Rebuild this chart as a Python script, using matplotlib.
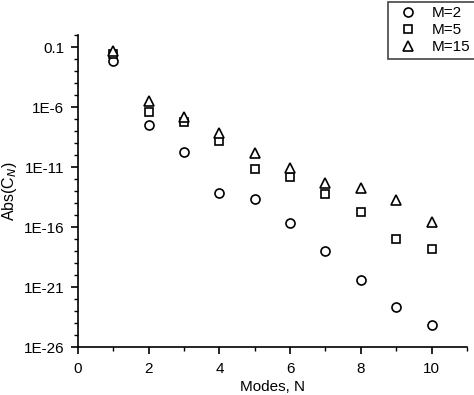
import numpy as np
import matplotlib
matplotlib.use('Agg')
import matplotlib.pyplot as plt
from matplotlib.ticker import FixedLocator, MultipleLocator

plt.rcParams['font.family'] = ['Liberation Sans', 'DejaVu Sans']
plt.rcParams['font.size'] = 11

# モード番号と各Mの係数の対数値 (log10)
modes = [1, 2, 3, 4, 5, 6, 7, 8, 9, 10]
log_m2 = [-2.17, -7.5, -9.75, -13.17, -13.67, -15.67, -18.0, -20.42, -22.67, -24.17]
log_m5 = [-1.58, -6.42, -7.25, -8.83, -11.17, -11.83, -13.25, -14.75, -17.0, -17.83]
log_m15 = [-1.33, -5.5, -6.83, -8.17, -9.83, -11.08, -12.33, -12.75, -13.75, -15.58]

ytick_vals = [1e-1, 1e-6, 1e-11, 1e-16, 1e-21, 1e-26]
ytick_labels = ['0.1', '1E-6', '1E-11', '1E-16', '1E-21', '1E-26']

fig = plt.figure(figsize=(4.74, 3.95), dpi=100)
ax = fig.add_axes([0.1646, 0.1215, 0.8204, 0.7895])

style = dict(linestyle='None', markerfacecolor='white', markeredgecolor='black',
             markeredgewidth=1.2, markersize=6.5)
ax.plot(modes, 10.0 ** np.array(log_m2), marker='o', label='M=2', **style)
ax.plot(modes, 10.0 ** np.array(log_m5), marker='s', label='M=5', **{**style, 'markersize': 5.5})
ax.plot(modes, 10.0 ** np.array(log_m15), marker='^', label='M=15', **style)

ax.set_yscale('log')
ax.set_ylim(1e-26, 1e0)
ax.set_xlim(0, 11)

ax.yaxis.set_major_locator(FixedLocator(ytick_vals))
ax.set_yticklabels(ytick_labels)
ax.yaxis.set_minor_locator(FixedLocator([10.0 ** -k for k in range(0, 27)]))
ax.yaxis.set_minor_formatter(plt.NullFormatter())

ax.xaxis.set_major_locator(MultipleLocator(2))
ax.xaxis.set_minor_locator(MultipleLocator(1))

ax.spines['top'].set_visible(False)
ax.spines['right'].set_visible(False)
for s in ['left', 'bottom']:
    ax.spines[s].set_linewidth(1.2)
ax.tick_params(which='major', direction='out', length=5, width=1.2, labelsize=11)
ax.tick_params(axis='x', which='major', pad=5.5)
ax.tick_params(axis='y', which='major', pad=5)
ax.tick_params(which='minor', direction='out', length=3, width=1.0)

ax.set_xlabel('Modes, N', fontsize=11, labelpad=3)
ax.set_ylabel('Abs(C$_N$)', fontsize=11.5, labelpad=3)

leg = fig.legend(loc='upper right', bbox_to_anchor=(1.019, 1.015), frameon=True,
                 fancybox=False, edgecolor='#444444', framealpha=1,
                 handletextpad=0.6, borderpad=0.3, labelspacing=0.2, fontsize=11)
leg.get_frame().set_linewidth(1.2)

fig.savefig('out.png', dpi=100)
